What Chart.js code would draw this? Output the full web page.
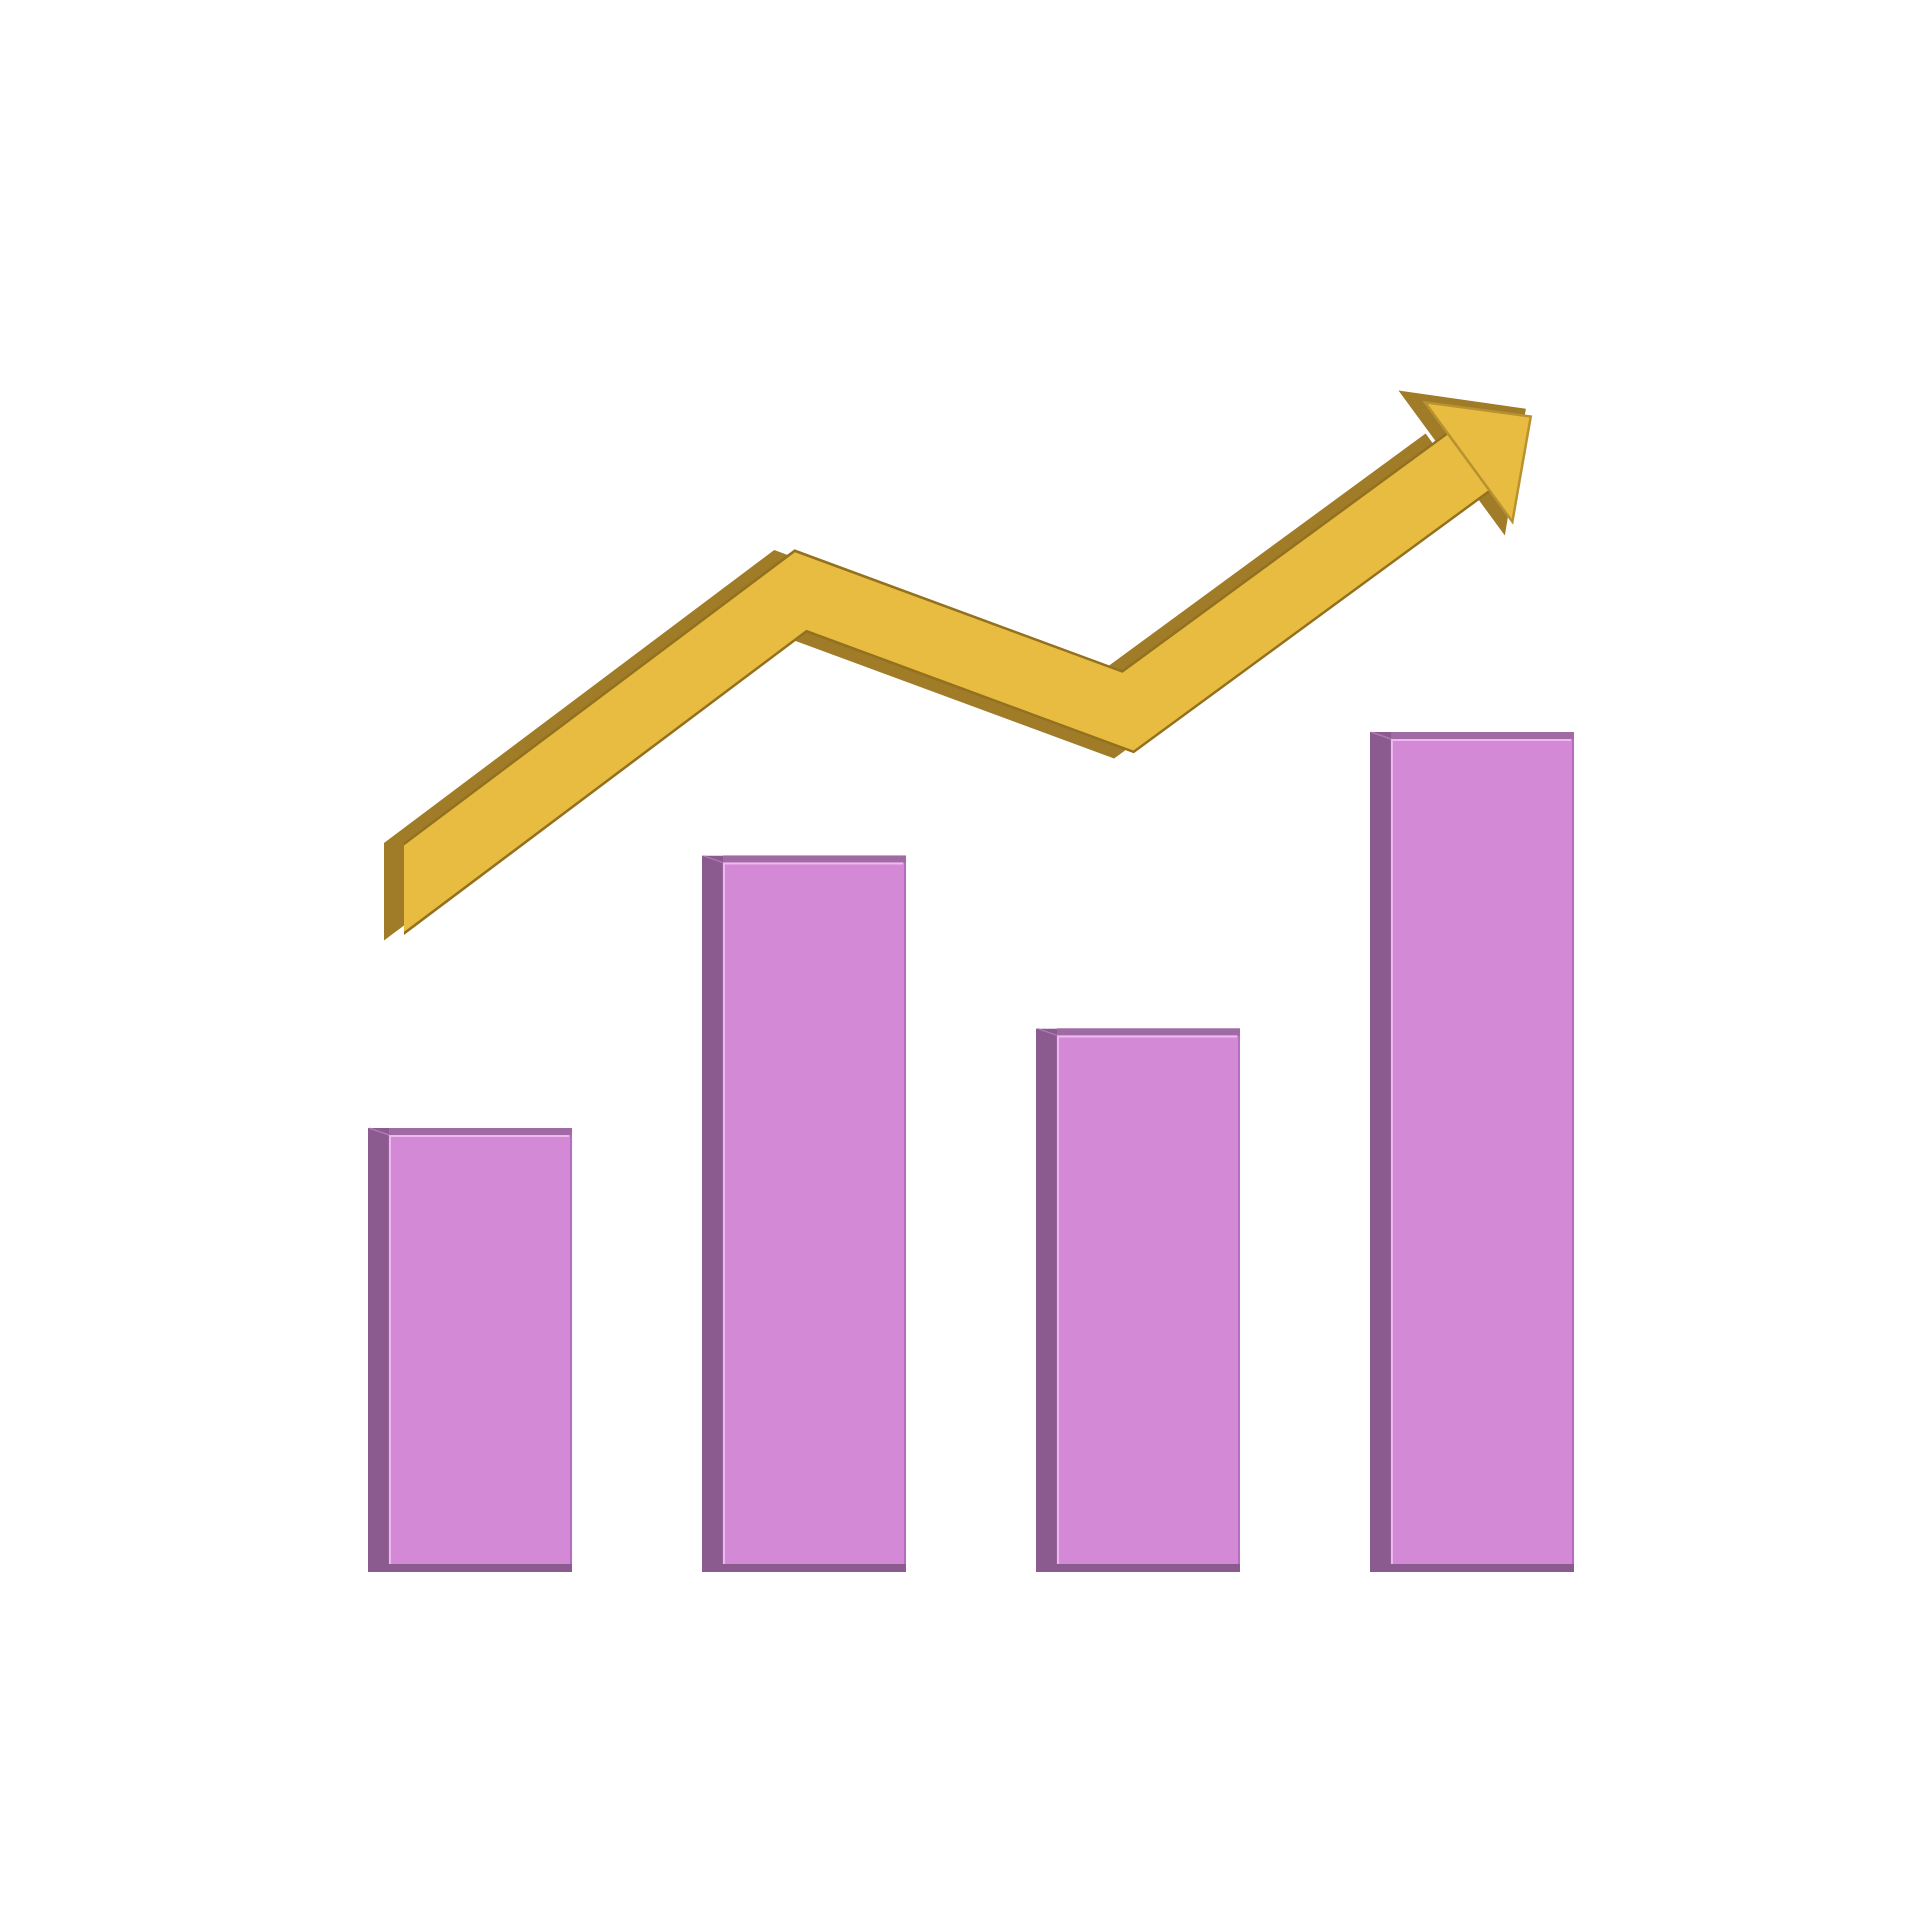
<!DOCTYPE html>
<html>
<head>
<meta charset="utf-8">
<script src="https://cdn.jsdelivr.net/npm/chart.js@4/dist/chart.umd.min.js"></script>
<style>
  html, body { margin: 0; padding: 0; background: #ffffff; }
  #wrap { width: 1920px; height: 1920px; }
</style>
</head>
<body>
<div id="wrap"><canvas id="c" width="1920" height="1920"></canvas></div>
<script>
// ---- data ----
const categories = ['1', '2', '3', '4'];
const barValues = [37.0, 59.7, 45.3, 70.0];
const trendX = [0.20, 1.49, 2.47, 3.49];
const trendY = [54.8, 81.75, 71.7, 92.5];

const trendPoints = trendX.map((x, i) => ({ x: x, y: trendY[i] }));

const GOLD = '#e8bb41';
const GOLD_DARK = '#a07c29';
const GOLD_EDGE = '#93711f';

function headPath(ctx, bx, by, ang, len, half) {
  const cos = Math.cos(ang), sin = Math.sin(ang);
  const tipX = bx + cos * len, tipY = by + sin * len;
  const px = -sin, py = cos;
  ctx.beginPath();
  ctx.moveTo(tipX, tipY);
  ctx.lineTo(bx + px * half, by + py * half);
  ctx.lineTo(bx - px * half, by - py * half);
  ctx.closePath();
}

const decoPlugin = {
  id: 'deco',
  beforeDatasetDraw(chart, args) {
    const ds = chart.data.datasets[args.index];
    if (ds.shift) {
      chart.ctx.save();
      chart.ctx.translate(ds.shift[0], ds.shift[1]);
    }
  },
  afterDatasetDraw(chart, args) {
    const ctx = chart.ctx;
    const ds = chart.data.datasets[args.index];
    const meta = args.meta;
    if (ds.shift) ctx.restore();
    if (ds.head) {
      const pts = meta.data;
      const a = pts[pts.length - 2], b = pts[pts.length - 1];
      const ang = Math.atan2(b.y - a.y, b.x - a.x);
      const bx = b.x + ds.head.off[0], by = b.y + ds.head.off[1];
      headPath(ctx, bx, by, ang, ds.head.len, ds.head.half);
      ctx.fillStyle = ds.head.fill;
      ctx.fill();
      if (ds.head.stroke) {
        ctx.lineWidth = 2.5;
        ctx.lineJoin = 'miter';
        ctx.strokeStyle = ds.head.stroke;
        ctx.stroke();
      }
    }
    if (ds.type === 'bar') {
      meta.data.forEach(el => {
        const left = el.x - el.width / 2, right = el.x + el.width / 2;
        const top = el.y, base = el.base;
        ctx.save();
        ctx.fillStyle = '#a06aa4';
        ctx.fillRect(left + 21, top, right - left - 21, 7);
        ctx.beginPath();
        ctx.moveTo(left + 1, top);
        ctx.lineTo(left + 21, top + 7);
        ctx.strokeStyle = 'rgba(200,140,205,0.6)';
        ctx.lineWidth = 1.5;
        ctx.stroke();
        ctx.beginPath();
        ctx.moveTo(left + 22, base - 8);
        ctx.lineTo(left + 22, top + 8);
        ctx.lineTo(right - 3, top + 8);
        ctx.strokeStyle = '#efb8ef';
        ctx.lineWidth = 2;
        ctx.stroke();
        ctx.beginPath();
        ctx.moveTo(right - 1, top + 7);
        ctx.lineTo(right - 1, base - 8);
        ctx.strokeStyle = '#b56ec0';
        ctx.lineWidth = 2;
        ctx.stroke();
        ctx.restore();
      });
    }
  }
};

const lineClip = { left: -101, top: false, right: false, bottom: false };

new Chart(document.getElementById('c'), {
  type: 'bar',
  data: {
    labels: categories,
    datasets: [
      {
        type: 'line',
        label: 'trend',
        data: trendPoints,
        xAxisID: 'x2',
        borderColor: GOLD,
        borderWidth: 69,
        borderCapStyle: 'butt',
        borderJoinStyle: 'miter',
        tension: 0,
        pointRadius: 0,
        fill: false,
        clip: lineClip,
        order: 0,
        head: { off: [0, 0], len: 77, half: 74, fill: GOLD, stroke: '#b8922f' }
      },
      {
        type: 'line',
        label: 'trend-edge',
        data: trendPoints,
        xAxisID: 'x2',
        borderColor: GOLD_EDGE,
        borderWidth: 74,
        borderCapStyle: 'butt',
        borderJoinStyle: 'miter',
        tension: 0,
        pointRadius: 0,
        fill: false,
        clip: lineClip,
        order: 1
      },
      {
        type: 'line',
        label: 'trend-back',
        data: trendPoints,
        xAxisID: 'x2',
        borderColor: GOLD_DARK,
        borderWidth: 78,
        borderCapStyle: 'butt',
        borderJoinStyle: 'miter',
        tension: 0,
        pointRadius: 0,
        fill: false,
        clip: lineClip,
        order: 2,
        shift: [-20, 3],
        head: { off: [-17, 1], len: 92, half: 90, fill: GOLD_DARK }
      },
      {
        type: 'bar',
        label: 'values',
        data: barValues,
        xAxisID: 'x',
        grouped: false,
        backgroundColor: '#d389d5',
        borderColor: '#8b5a8e',
        borderWidth: { top: 7, left: 21, bottom: 8, right: 2 },
        borderSkipped: false,
        categoryPercentage: 1,
        barPercentage: 0.611,
        order: 3
      }
    ]
  },
  options: {
    responsive: false,
    animation: false,
    devicePixelRatio: 1,
    layout: { padding: { left: 303, right: 281, top: 372, bottom: 348 } },
    plugins: { legend: { display: false }, tooltip: { enabled: false } },
    scales: {
      x: { type: 'category', display: false, offset: true },
      x2: { type: 'linear', display: false, min: 0, max: 4, offset: false, grid: { offset: false } },
      y: { type: 'linear', display: false, min: 0, max: 100 }
    }
  },
  plugins: [decoPlugin]
});
</script>
</body>
</html>
